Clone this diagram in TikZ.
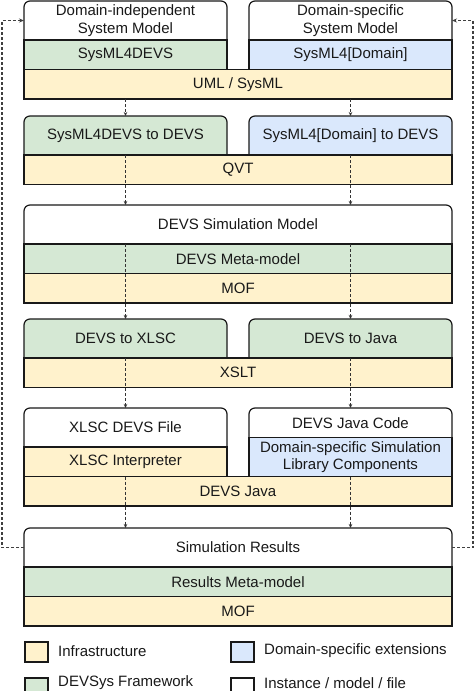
\documentclass[tikz,border=0pt]{standalone}
\usepackage{fontspec}
\setmainfont{Liberation Sans}
\usetikzlibrary{positioning,arrows.meta,backgrounds}

\definecolor{infra}{HTML}{FFF2CC}
\definecolor{devsys}{HTML}{D5E8D4}
\definecolor{domext}{HTML}{DAE8FC}

% box with rounded top corners, drawn behind the node of the same name
\newcommand{\roundtop}[2]{\draw[line width=1.2pt,draw=black!90,fill=#2,rounded corners=6pt] (#1.south west) |- (#1.north east) -- (#1.south east);}

\begin{document}
\begin{tikzpicture}[x=1pt,y=-1pt,
    layer/.style={rectangle,draw=black!90,line width=1.2pt,inner sep=0pt,outer sep=0pt,align=center,text=black!90,font=\fontsize{15}{17.5}\selectfont},
    half/.style={layer,minimum width=203pt},
    full/.style={layer,minimum width=428pt},
    inst/.style={minimum height=39pt},
    band/.style={minimum height=29.5pt},
    top/.style={draw=none},
    flow/.style={dash pattern=on 3pt off 2pt,line width=0.7pt,black!80,-{Stealth[length=4pt,width=3.5pt]}},
    loop/.style={dash pattern=on 3pt off 2pt,line width=1.2pt,black!75,-{Stealth[length=5pt,width=4pt]}},
    key/.style={rectangle,draw=black!90,line width=1.2pt,minimum width=23pt,minimum height=20pt,inner sep=0pt,outer sep=0pt},
    keytext/.style={inner sep=0pt,anchor=west,text=black!90,font=\fontsize{15}{17}\selectfont}]
    \useasboundingbox (0,0) rectangle (474,691);

    % system models
    \node [half,inst,top] (dind) at (24,1) [anchor=north west] {Domain-independent\\System Model};
    \node [half,band,fill=devsys] (sysdevs) [below=0pt of dind] {SysML4DEVS};
    \node [half,inst,top] (dspec) at (249,1) [anchor=north west] {Domain-specific\\System Model};
    \node [half,band,fill=domext] (sysdom) [below=0pt of dspec] {SysML4[Domain]};
    \node [full,band,fill=infra] (uml) at (sysdevs.south west) [anchor=north west] {UML / SysML};

    % model transformations
    \node [half,inst,top] (t1) at (24,116) [anchor=north west] {SysML4DEVS to DEVS};
    \node [half,inst,top] (t2) at (249,116) [anchor=north west] {SysML4[Domain] to DEVS};
    \node [full,band,fill=infra] (qvt) at (t1.south west) [anchor=north west] {QVT};

    % simulation model
    \node [full,inst,top] (dsm) at (24,205) [anchor=north west] {DEVS Simulation Model};
    \node [full,band,fill=devsys] (meta) [below=0pt of dsm] {DEVS Meta-model};
    \node [full,band,fill=infra] (mof) [below=0pt of meta] {MOF};

    % code generation
    \node [half,inst,top] (x1) at (24,319) [anchor=north west] {DEVS to XLSC};
    \node [half,inst,top] (x2) at (249,319) [anchor=north west] {DEVS to Java};
    \node [full,band,fill=infra] (xslt) at (x1.south west) [anchor=north west] {XSLT};

    % executables
    \node [half,inst,top] (xf) at (24,408) [anchor=north west] {XLSC DEVS File};
    \node [half,band,fill=infra] (xi) [below=0pt of xf] {XLSC Interpreter};
    \node [half,band,top] (jc) at (249,408) [anchor=north west] {DEVS Java Code};
    \node [half,inst,fill=domext] (lib) [below=0pt of jc] {Domain-specific Simulation\\Library Components};
    \node [full,band,fill=infra] (dj) at (xi.south west) [anchor=north west] {DEVS Java};

    % results
    \node [full,inst,top] (res) at (24,528) [anchor=north west] {Simulation Results};
    \node [full,band,fill=devsys] (rmeta) [below=0pt of res] {Results Meta-model};
    \node [full,band,fill=infra] (rmof) [below=0pt of rmeta] {MOF};

    \begin{scope}[on background layer]
        \roundtop{dind}{white} \roundtop{dspec}{white}
        \roundtop{t1}{devsys} \roundtop{t2}{domext}
        \roundtop{dsm}{white}
        \roundtop{x1}{devsys} \roundtop{x2}{devsys}
        \roundtop{xf}{white} \roundtop{jc}{white}
        \roundtop{res}{white}
    \end{scope}

    % flows
    \draw [flow] (uml.south -| sysdevs) -- (t1.north);
    \draw [flow] (uml.south -| sysdom) -- (t2.north);
    \draw [flow] (t1.south) -- (dsm.north -| t1);
    \draw [flow] (t2.south) -- (dsm.north -| t2);
    \draw [flow] (dsm.south -| t1) -- (x1.north);
    \draw [flow] (dsm.south -| t2) -- (x2.north);
    \draw [flow] (x1.south) -- (xf.north);
    \draw [flow] (x2.south) -- (jc.north);
    \draw [flow] (xi.south) -- (res.north -| xi);
    \draw [flow] (lib.south) -- (res.north -| lib);

    % feedback
    \draw [loop] (res.west) -- ++(-22,0) |- (dind.west);
    \draw [loop] (res.east) -- ++(21,0) |- (dspec.east);

    % legend
    \node [key,fill=infra] (k1) at (25,642) [anchor=north west] {};
    \node [key,fill=devsys] (k2) at (25,678) [anchor=north west] {};
    \node [key,fill=domext] (k3) at (231,642) [anchor=north west] {};
    \node [key,fill=white] (k4) at (231,678) [anchor=north west] {};
    \node [keytext] (l1) at ([xshift=10pt,yshift=-9pt]k1.north east) {Infrastructure};
    \node [keytext] (l2) at ([xshift=10pt,yshift=-5pt]k2.north east) {DEVSys Framework};
    \node [keytext] (l3) at ([xshift=10pt,yshift=-9pt]k3.north east) {Domain-specific extensions};
    \node [keytext] (l4) at ([xshift=10pt,yshift=-5pt]k4.north east) {Instance / model / file};
\end{tikzpicture}
\end{document}
